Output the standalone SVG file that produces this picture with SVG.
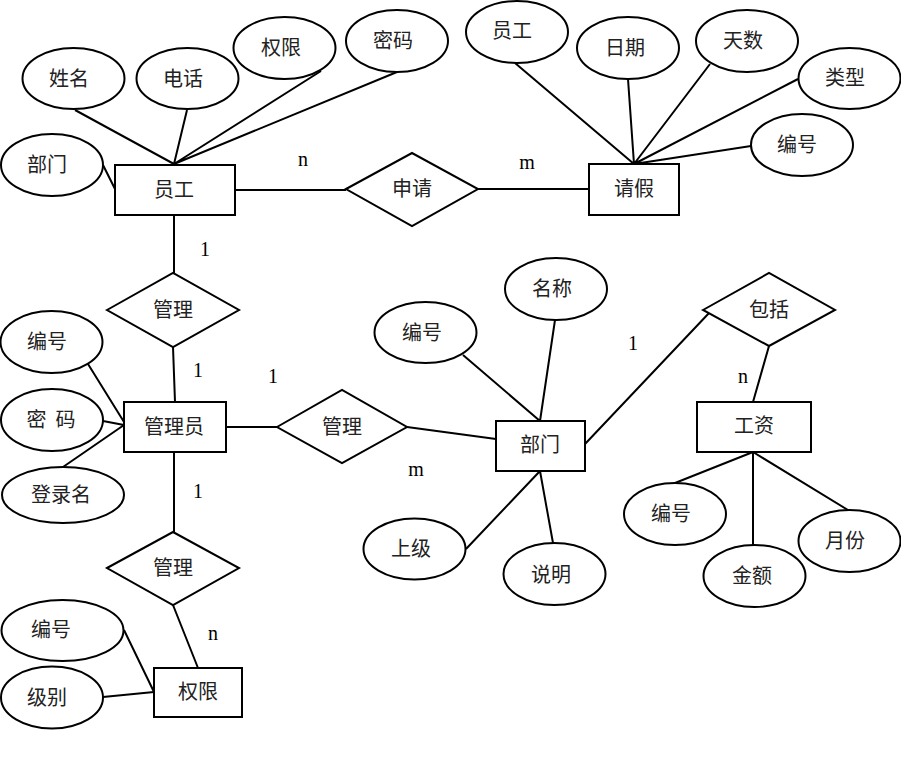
<svg xmlns="http://www.w3.org/2000/svg" width="901" height="759" viewBox="0 0 901 759">
<style>
.s{fill:#fff;stroke:#000;stroke-width:2}
.l{stroke:#000;stroke-width:2;fill:none}
.t{font-family:"Noto Sans CJK SC","Noto Sans",sans-serif;font-size:20px;fill:#222;text-anchor:middle}
.c{font-family:"Liberation Serif",serif;font-size:20px;fill:#000;text-anchor:middle}
</style>
<rect width="901" height="759" fill="#fff"/>
<g id="connectors">
<path class="l" d="M75 110L174 164M187 110L174 164M321 71L174 164M397 72L174 164M103 165L115 189"/>
<path class="l" d="M235 190H346M478 189H589"/>
<path class="l" d="M515 63L634 164M628 79L634 164M710 64L634 164M798 79L634 164M751 146L634 164"/>
<path class="l" d="M174 215V273M173 347L175 402"/>
<path class="l" d="M88 364L124 422M103 421L124 425M63 467L124 425"/>
<path class="l" d="M226 427H277M407 427L496 439"/>
<path class="l" d="M174 452V532M173 605L198 668"/>
<path class="l" d="M124 630L154 692M103 697L154 692"/>
<path class="l" d="M463 355L540 421M555 320L540 421M466 549L540 471M553 543L540 471"/>
<path class="l" d="M585 444L710 312M769 346L753 402"/>
<path class="l" d="M753 452L675 483M753 452V545M753 452L848 510"/>
</g>
<g id="labels">
<text class="c" x="303" y="166">n</text>
<text class="c" x="527" y="169">m</text>
<text class="c" x="205" y="256">1</text>
<text class="c" x="198" y="377">1</text>
<text class="c" x="273" y="383">1</text>
<text class="c" x="198" y="498">1</text>
<text class="c" x="416" y="476">m</text>
<text class="c" x="213" y="640">n</text>
<text class="c" x="633" y="350">1</text>
<text class="c" x="743" y="383">n</text>
</g>
<g id="e_yuangong"><rect class="s" x="115" y="165" width="120" height="50"/><text class="t" x="174" y="197">员工</text></g>
<g id="a_xingming"><ellipse class="s" cx="73.5" cy="78.5" rx="51" ry="30.5"/><text class="t" x="69" y="86">姓名</text></g>
<g id="a_dianhua"><ellipse class="s" cx="187.5" cy="78.5" rx="51" ry="30.5"/><text class="t" x="183" y="86">电话</text></g>
<g id="a_quanxian"><ellipse class="s" cx="284.5" cy="48" rx="51" ry="31"/><text class="t" x="281" y="55">权限</text></g>
<g id="a_mima"><ellipse class="s" cx="397" cy="41" rx="51" ry="31"/><text class="t" x="393" y="48">密码</text></g>
<g id="a_bumen1"><ellipse class="s" cx="52" cy="165" rx="51" ry="31"/><text class="t" x="47" y="172">部门</text></g>
<g id="r_shenqing"><polygon class="s" points="346,189 412,153 478,189 412,226"/><text class="t" x="412" y="196">申请</text></g>
<g id="e_qingjia"><rect class="s" x="589" y="164" width="90" height="51"/><text class="t" x="634" y="196">请假</text></g>
<g id="a_yuangong2"><ellipse class="s" cx="517" cy="32" rx="51" ry="31"/><text class="t" x="512" y="38">员工</text></g>
<g id="a_riqi"><ellipse class="s" cx="628" cy="48" rx="51" ry="31"/><text class="t" x="625" y="55">日期</text></g>
<g id="a_tianshu"><ellipse class="s" cx="747" cy="41" rx="51" ry="31"/><text class="t" x="743" y="48">天数</text></g>
<g id="a_leixing"><ellipse class="s" cx="849.5" cy="78.5" rx="51" ry="30.5"/><text class="t" x="845" y="85">类型</text></g>
<g id="a_bianhao1"><ellipse class="s" cx="802" cy="145" rx="51" ry="31"/><text class="t" x="797" y="152">编号</text></g>
<g id="r_guanli1"><polygon class="s" points="107,310 173,273 239,310 173,347"/><text class="t" x="173" y="317">管理</text></g>
<g id="e_guanliyuan"><rect class="s" x="124" y="402" width="102" height="50"/><text class="t" x="174" y="434">管理员</text></g>
<g id="a_bianhao2"><ellipse class="s" cx="51.5" cy="342" rx="51" ry="31"/><text class="t" x="47" y="349">编号</text></g>
<g id="a_mima2"><ellipse class="s" cx="52" cy="420" rx="51" ry="31"/><text class="t" x="51" y="427" xml:space="preserve">密  码</text></g>
<g id="a_denglu"><ellipse class="s" cx="63" cy="495" rx="61" ry="28"/><text class="t" x="61" y="502">登录名</text></g>
<g id="r_guanli2"><polygon class="s" points="277,427 342,390 407,427 342,463"/><text class="t" x="342" y="434">管理</text></g>
<g id="e_bumen"><rect class="s" x="496" y="421" width="89" height="50"/><text class="t" x="540" y="452">部门</text></g>
<g id="a_bianhao3"><ellipse class="s" cx="425.5" cy="332.5" rx="51" ry="30.5"/><text class="t" x="422" y="340">编号</text></g>
<g id="a_mingcheng"><ellipse class="s" cx="556" cy="289" rx="51" ry="31"/><text class="t" x="552" y="296">名称</text></g>
<g id="a_shangji"><ellipse class="s" cx="414.5" cy="549" rx="51" ry="30.5"/><text class="t" x="411" y="556">上级</text></g>
<g id="a_shuoming"><ellipse class="s" cx="554.5" cy="574" rx="51" ry="31"/><text class="t" x="551" y="582">说明</text></g>
<g id="r_baokuo"><polygon class="s" points="703,310 769,273 835,310 769,346"/><text class="t" x="769" y="317">包括</text></g>
<g id="e_gongzi"><rect class="s" x="697" y="402" width="114" height="50"/><text class="t" x="754" y="433">工资</text></g>
<g id="a_bianhao4"><ellipse class="s" cx="675" cy="514" rx="51" ry="31"/><text class="t" x="671" y="521">编号</text></g>
<g id="a_jine"><ellipse class="s" cx="754.5" cy="576" rx="51" ry="31"/><text class="t" x="752" y="583">金额</text></g>
<g id="a_yuefen"><ellipse class="s" cx="849.5" cy="541" rx="51" ry="31"/><text class="t" x="845" y="548">月份</text></g>
<g id="r_guanli3"><polygon class="s" points="107,568 173,532 239,568 173,605"/><text class="t" x="173" y="575">管理</text></g>
<g id="e_quanxian"><rect class="s" x="154" y="668" width="88" height="49"/><text class="t" x="198" y="699">权限</text></g>
<g id="a_bianhao5"><ellipse class="s" cx="62.5" cy="630.5" rx="61" ry="30.5"/><text class="t" x="51" y="637">编号</text></g>
<g id="a_jibie"><ellipse class="s" cx="52" cy="697.5" rx="51" ry="31"/><text class="t" x="47" y="705">级别</text></g>
</svg>
